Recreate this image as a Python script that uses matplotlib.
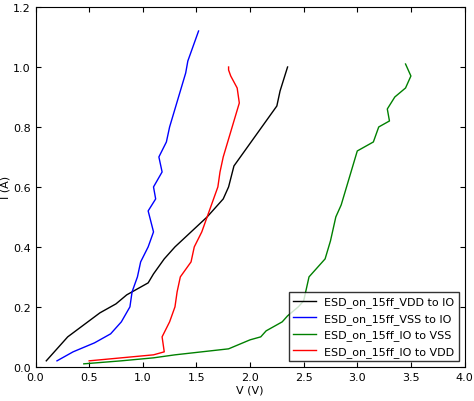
import matplotlib.pyplot as plt

# V (V), I (A)
vdd_io_v = [0.1, 0.2, 0.3, 0.45, 0.6, 0.75, 0.85, 0.95, 1.05, 1.1, 1.2, 1.3, 1.45, 1.6, 1.75, 1.8, 1.85, 1.95, 2.05, 2.15, 2.25, 2.28, 2.35]
vdd_io_i = [0.02, 0.06, 0.1, 0.14, 0.18, 0.21, 0.24, 0.26, 0.28, 0.31, 0.36, 0.4, 0.45, 0.5, 0.56, 0.6, 0.67, 0.72, 0.77, 0.82, 0.87, 0.92, 1.0]

vss_io_v = [0.2, 0.35, 0.55, 0.7, 0.8, 0.88, 0.9, 0.95, 0.98, 1.05, 1.1, 1.05, 1.12, 1.1, 1.18, 1.15, 1.22, 1.25, 1.3, 1.35, 1.4, 1.42, 1.47, 1.52]
vss_io_i = [0.02, 0.05, 0.08, 0.11, 0.15, 0.2, 0.25, 0.3, 0.35, 0.4, 0.45, 0.52, 0.56, 0.6, 0.65, 0.7, 0.75, 0.8, 0.86, 0.92, 0.98, 1.02, 1.07, 1.12]

io_vss_v = [0.45, 0.8, 1.1, 1.3, 1.55, 1.8, 2.0, 2.1, 2.15, 2.3, 2.35, 2.45, 2.5, 2.55, 2.7, 2.75, 2.8, 2.85, 2.9, 2.95, 3.0, 3.15, 3.2, 3.3, 3.28, 3.35, 3.45, 3.5, 3.45]
io_vss_i = [0.01, 0.02, 0.03, 0.04, 0.05, 0.06, 0.09, 0.1, 0.12, 0.15, 0.17, 0.2, 0.22, 0.3, 0.36, 0.42, 0.5, 0.54, 0.6, 0.66, 0.72, 0.75, 0.8, 0.82, 0.86, 0.9, 0.93, 0.97, 1.01]

io_vdd_v = [0.5, 0.8, 1.1, 1.2, 1.18, 1.25, 1.3, 1.32, 1.35, 1.45, 1.48, 1.55, 1.6, 1.65, 1.7, 1.72, 1.75, 1.8, 1.85, 1.9, 1.88, 1.82, 1.8, 1.8]
io_vdd_i = [0.02, 0.03, 0.04, 0.05, 0.1, 0.15, 0.2, 0.25, 0.3, 0.35, 0.4, 0.45, 0.5, 0.55, 0.6, 0.65, 0.7, 0.76, 0.82, 0.88, 0.93, 0.97, 0.99, 1.0]

fig, ax = plt.subplots(figsize=(4.74, 4.02), dpi=100)
ax.plot(vdd_io_v, vdd_io_i, color='black', lw=1, label='ESD_on_15ff_VDD to IO')
ax.plot(vss_io_v, vss_io_i, color='blue', lw=1, label='ESD_on_15ff_VSS to IO')
ax.plot(io_vss_v, io_vss_i, color='green', lw=1, label='ESD_on_15ff_IO to VSS')
ax.plot(io_vdd_v, io_vdd_i, color='red', lw=1, label='ESD_on_15ff_IO to VDD')

ax.set_xlim(0, 4)
ax.set_ylim(0, 1.2)
ax.set_xlabel('V (V)', fontsize=8, labelpad=2)
ax.set_ylabel('I (A)', fontsize=8, labelpad=2)
ax.tick_params(labelsize=8, direction='in', top=True, right=True)
ax.legend(loc='lower right', fontsize=8, frameon=True, fancybox=False, edgecolor='black', handlelength=2)

plt.subplots_adjust(left=0.075, right=0.98, top=0.98, bottom=0.085)
fig.savefig('out.png', dpi=100)
